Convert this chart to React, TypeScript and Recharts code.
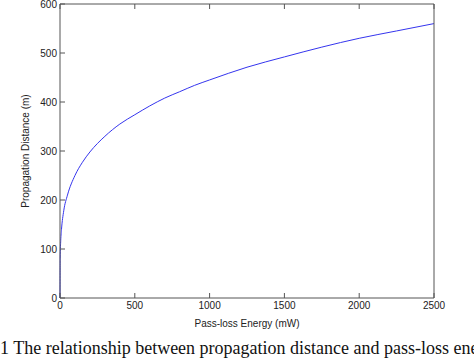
import React from "react";
import { LineChart, Line, XAxis, YAxis } from "recharts";

const energy = [0, 1, 5, 10, 25, 50, 100, 150, 200, 300, 400, 500, 600, 700, 800, 900, 1000, 1250, 1500, 1750, 2000, 2250, 2500];
const distance = [0, 80, 118, 140, 178, 210, 250, 277, 298, 330, 355, 374, 392, 408, 421, 434, 445, 471, 492, 512, 530, 545, 560];
const xTicks = [0, 500, 1000, 1500, 2000, 2500];
const yTicks = [0, 100, 200, 300, 400, 500, 600];

const data = energy.map((e, i) => ({ e, d: distance[i] }));

const AXIS = "#555";
const FONT = "'Liberation Sans', Arial, sans-serif";

const BottomTick = (props: any) => {
  const { x, y, payload } = props;
  return (
    <g>
      <line x1={x} y1={y} x2={x} y2={y - 5} stroke={AXIS} strokeWidth={1} />
      <text x={x} y={y + 11} textAnchor="middle" fontSize={10} fontFamily={FONT} fill="#222">
        {payload.value}
      </text>
    </g>
  );
};
const TopTick = (props: any) => {
  const { x, y } = props;
  return <line x1={x} y1={y} x2={x} y2={y + 5} stroke={AXIS} strokeWidth={1} />;
};
const LeftTick = (props: any) => {
  const { x, y, payload } = props;
  return (
    <g>
      <line x1={x} y1={y} x2={x + 5} y2={y} stroke={AXIS} strokeWidth={1} />
      <text x={x - 3} y={y + 4} textAnchor="end" fontSize={10} fontFamily={FONT} fill="#222">
        {payload.value}
      </text>
    </g>
  );
};
const RightTick = (props: any) => {
  const { x, y } = props;
  return <line x1={x} y1={y} x2={x - 5} y2={y} stroke={AXIS} strokeWidth={1} />;
};

export default function App() {
  return (
    <div style={{ position: "absolute", left: 0, top: 0, width: 474, height: 358, background: "#fff", overflow: "hidden" }}>
      <LineChart width={474} height={358} data={data} margin={{ top: 0, right: 0, bottom: 30, left: 0 }}>
        <XAxis
          xAxisId="b"
          dataKey="e"
          type="number"
          domain={[0, 2500]}
          ticks={xTicks}
          height={30}
          tickSize={0}
          tickMargin={0}
          tickLine={false}
          axisLine={{ stroke: AXIS }}
          tick={<BottomTick />}
          interval={0}
          label={{ value: "Pass-loss Energy (mW)", position: "insideBottom", offset: 1, fontSize: 10, fontFamily: FONT, fill: "#222" }}
        />
        <XAxis
          xAxisId="t"
          orientation="top"
          dataKey="e"
          type="number"
          domain={[0, 2500]}
          ticks={xTicks}
          height={4}
          tickSize={0}
          tickMargin={0}
          tickLine={false}
          axisLine={{ stroke: AXIS }}
          tick={<TopTick />}
          interval={0}
        />
        <YAxis
          yAxisId="l"
          type="number"
          domain={[0, 600]}
          ticks={yTicks}
          width={60}
          tickSize={0}
          tickMargin={0}
          tickLine={false}
          axisLine={{ stroke: AXIS }}
          tick={<LeftTick />}
          interval={0}
          label={{ value: "Propagation Distance (m)", angle: -90, position: "insideLeft", offset: 25, fontSize: 10, fontFamily: FONT, fill: "#222", style: { textAnchor: "middle" } }}
        />
        <YAxis
          yAxisId="r"
          orientation="right"
          type="number"
          domain={[0, 600]}
          ticks={yTicks}
          width={40}
          tickSize={0}
          tickMargin={0}
          tickLine={false}
          axisLine={{ stroke: AXIS }}
          tick={<RightTick />}
          interval={0}
        />
        <Line
          xAxisId="b"
          yAxisId="l"
          type="monotone"
          dataKey="d"
          stroke="#3535ee"
          strokeWidth={1}
          dot={false}
          isAnimationActive={false}
        />
      </LineChart>
      <div
        style={{
          position: "absolute",
          left: 0,
          top: 337,
          whiteSpace: "nowrap",
          fontFamily: "'Liberation Serif', 'Times New Roman', serif",
          fontSize: 18,
          lineHeight: "22px",
          color: "#111",
        }}
      >
        1 The relationship between propagation distance and pass-loss energy
      </div>
    </div>
  );
}
